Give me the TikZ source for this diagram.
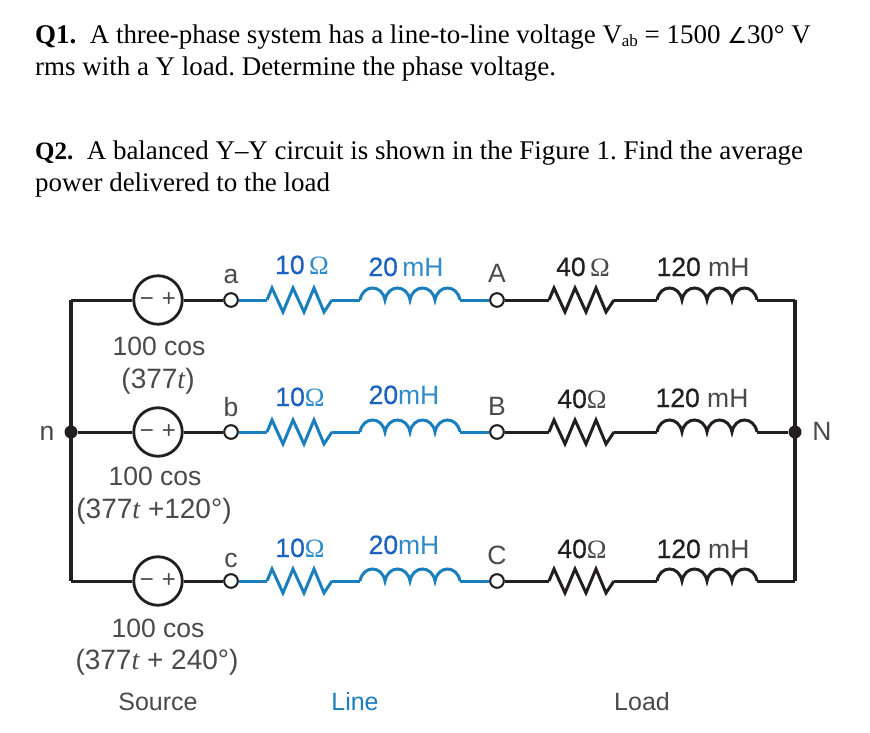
\documentclass[tikz,border=0pt]{standalone}
\usepackage{fontspec}
\setmainfont{Liberation Serif}
\newfontfamily\labfont{Liberation Sans}
\newfontfamily\labmed[FakeBold=0.5]{Liberation Sans}
\newfontfamily\symfont{DejaVu Sans}
\definecolor{wireblue}{HTML}{1B7FBE}
\definecolor{numblue}{HTML}{1E62C0}
\definecolor{unitblue}{HTML}{2F8CCB}
\definecolor{inkdark}{HTML}{231F20}
\definecolor{textgrey}{HTML}{4A4A4A}
\frenchspacing
\tikzset{
  qtext/.style={anchor=base west,inner sep=0pt,font=\fontsize{26.95}{27}\selectfont},
  lab/.style={anchor=base,inner sep=0pt,text=textgrey,font=\labfont\fontsize{26.5}{26}\selectfont},
  valab/.style={anchor=base,inner sep=0pt,text=textgrey,font=\labfont\fontsize{26.5}{26}\selectfont},
  srcline/.style={anchor=base,inner sep=0pt,text=textgrey,font=\labfont\fontsize{28}{28}\selectfont},
  seclab/.style={anchor=base,inner sep=0pt,text=textgrey,font=\labfont\fontsize{25}{25}\selectfont},
  blk/.style={draw=inkdark,line width=3pt},
  blu/.style={draw=wireblue,line width=3pt},
  rail/.style={draw=inkdark,line width=4.5pt,line cap=square},
  term/.style={circle,draw=inkdark,line width=1.9pt,fill=white,minimum size=13.5pt,inner sep=0pt},
  dot/.style={circle,fill=inkdark,minimum size=13pt,inner sep=0pt},
  src/.style={circle,draw=inkdark,line width=2.8pt,fill=white,minimum size=48.5pt,inner sep=0pt,
    text=textgrey,font=\labfont\fontsize{24}{24}\selectfont}
}
\newcommand{\zig}[2]{\draw[#1,line join=miter] (#2) -- ++(5,-12) -- ++(11,24) -- ++(10,-24) -- ++(11,24) -- ++(10,-24) -- ++(10,24) -- ++(8,-12);}
\newcommand{\coil}[2]{\draw[#1] (#2) .. controls +(3,-16) and +(-3,-16) .. ++(25,0)
  .. controls +(3,-16) and +(-3,-16) .. ++(25,0)
  .. controls +(3,-16) and +(-3,-16) .. ++(25,0)
  .. controls +(3,-16) and +(-3,-16) .. ++(25,0);}
\newcommand{\nb}[1]{\textcolor{numblue}{\labmed #1}}
\newcommand{\nk}[1]{\textcolor{inkdark}{\labmed #1}}
\newcommand{\ub}[1]{\textcolor{unitblue}{#1}}
\newcommand{\ohm}{{\rmfamily\textcolor{unitblue}{Ω}}}
\newcommand{\ohmk}{{\rmfamily\textcolor{textgrey}{Ω}}}
\newcommand{\tvar}{{\rmfamily\itshape t}}
\begin{document}
\begin{tikzpicture}[x=1pt,y=-1pt]
\useasboundingbox (0,0) rectangle (870,733);
\fill[white] (0,0) rectangle (870,733);
% question text
\node[qtext] (q1a) at (35,44) {\textbf{Q1.}\ \ A three-phase system has a line-to-line voltage V\raisebox{-3pt}{\fontsize{17}{17}\selectfont ab} = 1500 {\symfont\fontsize{22}{22}\selectfont ∠}30° V};
\node[qtext] (q1b) at (35,76) {rms with a Y load. Determine the phase voltage.};
\node[qtext] (q2a) at (35,160) {{\fontsize{25}{25}\selectfont\textbf{Q2.}}\ \ A balanced Y–Y circuit is shown in the Figure 1. Find the average};
\node[qtext] (q2b) at (35,191) {power delivered to the load};
% anchors
\foreach \nm/\yy in {a/300,b/432,c/581}{
  \coordinate (ra\nm) at (267,\yy);
  \coordinate (rb\nm) at (332,\yy);
  \coordinate (la\nm) at (360,\yy);
  \coordinate (lb\nm) at (460,\yy);
  \coordinate (ga\nm) at (549,\yy);
  \coordinate (gb\nm) at (614,\yy);
  \coordinate (ha\nm) at (657,\yy);
  \coordinate (hb\nm) at (757,\yy);
  \node[src] (s\nm) at (158,\yy) {−\,\,+};
  \node[term] (t\nm) at (231,\yy) {};
  \node[term] (T\nm) at (497,\yy) {};
}
\coordinate (nw) at (71,300);
\coordinate (sw) at (71,581);
\coordinate (ne) at (795,300);
\coordinate (se) at (795,581);
\node[dot] (nn) at (71,432) {};
\node[dot] (NN) at (795,432) {};
% rails
\draw[rail] (nw) -- (sw);
\draw[blk,line width=3.5pt,line cap=square] (ne) -- (se);
\foreach \nm in {a,b,c}{
  \draw[blu] (t\nm) -- (ra\nm);
  \zig{blu}{ra\nm}
  \draw[blu] (rb\nm) -- (la\nm);
  \coil{blu}{la\nm}
  \draw[blu] (lb\nm) -- (T\nm);
  \draw[blk] (s\nm) -- (t\nm);
  \draw[blk] (T\nm) -- (ga\nm);
  \zig{blk}{ga\nm}
  \draw[blk] (gb\nm) -- (ha\nm);
  \coil{blk}{ha\nm}
}
\draw[blk] (nw) -- (sa);
\draw[blk] (nn) -- (sb);
\draw[blk] (sw) -- (sc);
\draw[blk] (hba) -- (ne);
\draw[blk] (hbb) -- (NN);
\draw[blk] (hbc) -- (se);
% redraw terminals over wires
\foreach \nm in {a,b,c}{
  \node[term] at (t\nm) {};
  \node[term] at (T\nm) {};
}
% terminal labels
\node[lab] (la) at (231,283) {a};
\node[lab] (lb) at (231,416) {b};
\node[lab] (lc) at (231,567) {c};
\node[lab] (lA) at (497,282) {A};
\node[lab] (lB) at (497,415) {B};
\node[lab] (lC) at (497,564) {C};
\node[lab] (ln) at (47,440) {n};
\node[lab] (lN) at (822,440) {N};
% line labels
\node[valab] (l1r) at (302,274) {\nb{10}\,\ohm};
\node[valab] (l1l) at (406,276) {\nb{20}\,\ub{mH}};
\node[valab] (l2r) at (300,406) {\nb{10}\ohm};
\node[valab] (l2l) at (404,404) {\nb{20}\ub{mH}};
\node[valab] (l3r) at (300,557) {\nb{10}\ohm};
\node[valab] (l3l) at (404,554) {\nb{20}\ub{mH}};
% load labels
\node[valab] (g1r) at (583,276) {\nk{40}\,\ohmk};
\node[valab] (g1l) at (703,276) {\nk{120} mH};
\node[valab] (g2r) at (582,408) {\nk{40}\ohmk};
\node[valab] (g2l) at (702,407) {\nk{120} mH};
\node[valab] (g3r) at (582,558) {\nk{40}\ohmk};
\node[valab] (g3l) at (703,558) {\nk{120} mH};
% source labels
\node[lab] (s1a) at (159,355) {100 cos};
\node[srcline] (s1b) at (158,388) {(377\tvar)};
\node[lab] (s2a) at (155,485) {100 cos};
\node[srcline] (s2b) at (154,518) {(377\tvar\ +120°)};
\node[lab] (s3a) at (158,637) {100 cos};
\node[srcline] (s3b) at (157,669) {(377\tvar\ + 240°)};
% section labels
\node[seclab] (src) at (158,710) {Source};
\node[seclab,text=wireblue] (lin) at (355,710) {Line};
\node[seclab] (lod) at (642,710) {Load};
\end{tikzpicture}
\end{document}
